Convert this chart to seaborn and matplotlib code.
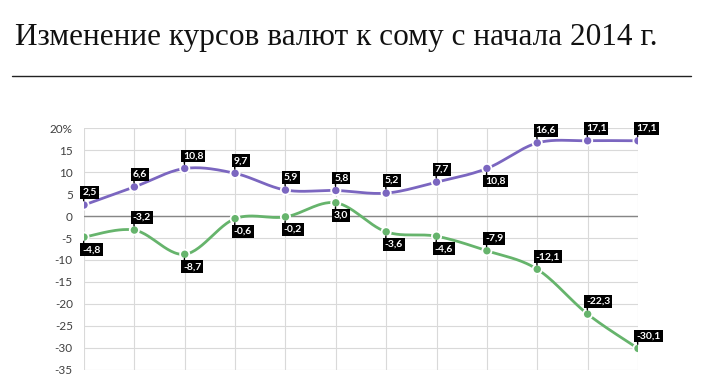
import numpy as np
import pandas as pd
import matplotlib
matplotlib.use("Agg")
import matplotlib.pyplot as plt
import seaborn as sns

# ---- data ----
title = "Изменение курсов валют к сому с начала 2014 г."
periods = list(range(12))
series_a = [2.5, 6.6, 10.8, 9.7, 5.9, 5.8, 5.2, 7.7, 10.8, 16.6, 17.1, 17.1]
series_b = [-4.8, -3.2, -8.7, -0.6, -0.2, 3.0, -3.6, -4.6, -7.9, -12.1, -22.3, -30.1]
labels_a_pos = ["up", "up", "up", "up", "up", "up", "up", "up", "down", "up", "up", "up"]
labels_b_pos = ["down", "up", "down", "down", "down", "down", "down", "down", "up", "up", "up", "up"]
yticks = [-35, -30, -25, -20, -15, -10, -5, 0, 5, 10, 15, 20]

color_a = "#7B66C0"
color_b = "#66B46C"

sns.set_theme(style="white")
plt.rcParams["font.family"] = ["Lato", "DejaVu Sans"]

fig = plt.figure(figsize=(7.05, 3.75), dpi=100)
ax = fig.add_axes([84 / 705, 5 / 375, (638 - 84) / 705, (370 - 128) / 375])

df = pd.DataFrame({
    "period": periods * 2,
    "value": series_a + series_b,
    "series": ["a"] * 12 + ["b"] * 12,
})


def smooth(xs, ys, n=30):
    xs = np.asarray(xs, float)
    ys = np.asarray(ys, float)
    px, py = [], []
    m = len(xs)
    for i in range(m - 1):
        x0, y0 = xs[max(i - 1, 0)], ys[max(i - 1, 0)]
        x1, y1 = xs[i], ys[i]
        x2, y2 = xs[i + 1], ys[i + 1]
        x3, y3 = xs[min(i + 2, m - 1)], ys[min(i + 2, m - 1)]
        c1x, c1y = x1 + (x2 - x0) / 6, y1 + (y2 - y0) / 6
        c2x, c2y = x2 - (x3 - x1) / 6, y2 - (y3 - y1) / 6
        t = np.linspace(0, 1, n)
        bx = (1 - t) ** 3 * x1 + 3 * (1 - t) ** 2 * t * c1x + 3 * (1 - t) * t ** 2 * c2x + t ** 3 * x2
        by = (1 - t) ** 3 * y1 + 3 * (1 - t) ** 2 * t * c1y + 3 * (1 - t) * t ** 2 * c2y + t ** 3 * y2
        px.extend(bx)
        py.extend(by)
    return np.array(px), np.array(py)


# grid
for yv in yticks:
    ax.axhline(yv, color="#D9D9D9", lw=0.8, zorder=0)
for xv in periods:
    ax.axvline(xv, color="#D9D9D9", lw=0.8, zorder=0)
ax.axhline(0, color="#868686", lw=1.0, zorder=1)

for vals, col in ((series_a, color_a), (series_b, color_b)):
    sx, sy = smooth(periods, vals)
    ax.plot(sx, sy, color=col, lw=2.0, zorder=2, solid_capstyle="round")

sns.scatterplot(data=df, x="period", y="value", hue="series",
                palette={"a": color_a, "b": color_b}, s=44,
                edgecolor="white", linewidth=1.3, legend=False, zorder=3, ax=ax)

for vals, poss in ((series_a, labels_a_pos), (series_b, labels_b_pos)):
    for xv, yv, pos in zip(periods, vals, poss):
        txt = f"{yv:.1f}".replace(".", ",")
        dy = 5.8 if pos == "up" else -5.8
        ax.annotate(txt, xy=(xv, yv), xytext=(-1.2, dy), textcoords="offset points",
                    ha="left", va="bottom" if pos == "up" else "top",
                    fontsize=7.5, color="white", fontweight="bold",
                    bbox=dict(boxstyle="square,pad=0.18", fc="black", ec="none"),
                    zorder=5)
        ax.annotate("", xy=(xv, yv), xytext=(-0.4, dy * 1.05), textcoords="offset points",
                    arrowprops=dict(arrowstyle="-", color="black", lw=1.0,
                                    shrinkA=0, shrinkB=3), zorder=4)

ax.set_xlim(0, 11)
ax.set_ylim(-35, 20)
ax.set_yticks(yticks)
ax.set_yticklabels([f"{v}%" if v == 20 else str(v) for v in yticks],
                   fontsize=8.5, color="#404040")
ax.set_xticks([])
ax.tick_params(axis="y", length=0, pad=8)
ax.set_xlabel("")
ax.set_ylabel("")
for sp in ax.spines.values():
    sp.set_visible(False)

fig.text(15 / 705, 1 - 45 / 375, title, fontsize=22.5, family=["Liberation Serif", "DejaVu Serif"],
         color="#111111", ha="left", va="baseline")
fig.add_artist(matplotlib.lines.Line2D([12 / 705, 691 / 705], [1 - 76 / 375, 1 - 76 / 375],
                                       color="#222222", lw=1.0))

fig.savefig("out.png", dpi=100, facecolor="white")
